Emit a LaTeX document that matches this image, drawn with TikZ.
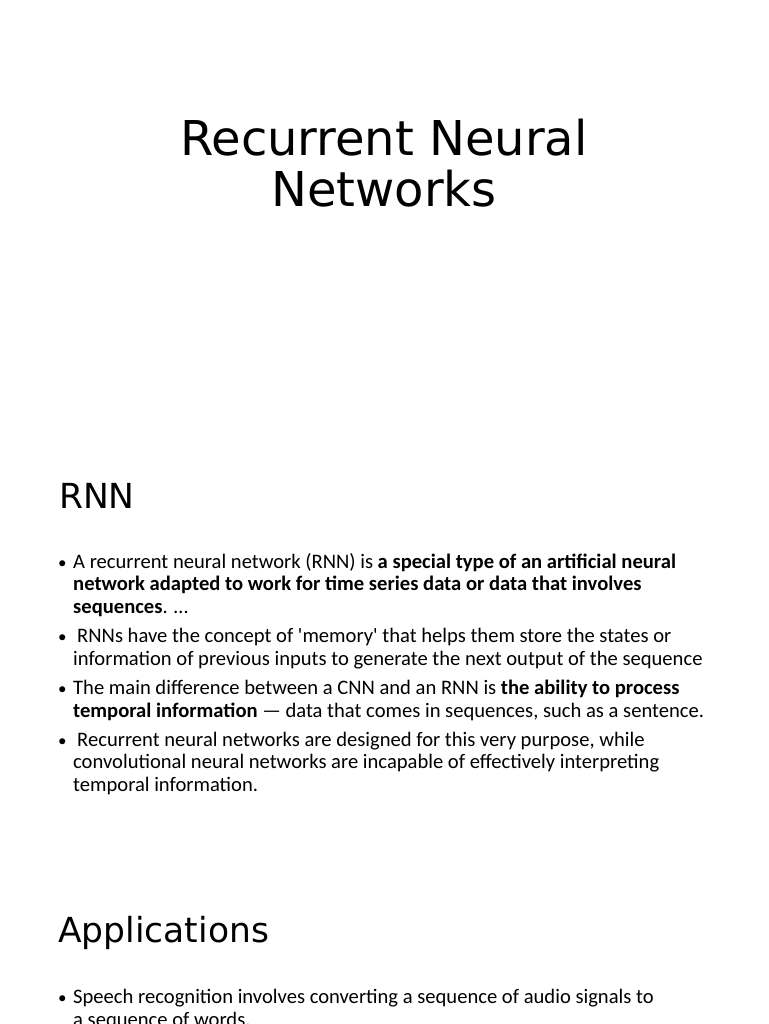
\documentclass[tikz,border=0pt]{standalone}
\usepackage{fontspec}
\defaultfontfeatures[\rmfamily]{}
\setmainfont{Carlito}
\newfontfamily\headfont{DejaVu Sans}
\begin{document}
\begin{tikzpicture}[x=1pt,y=-1pt,
  ttl/.style={font=\headfont\fontsize{48}{51}\selectfont,anchor=base,inner sep=0},
  hd/.style={font=\headfont\fontsize{34.5}{40}\selectfont,anchor=base west,inner sep=0},
  bt/.style={font=\fontsize{20.6}{23}\selectfont,anchor=base west,inner sep=0},
  bul/.style={font=\fontsize{17}{23}\selectfont,anchor=base west,inner sep=0}]
\useasboundingbox[fill=white] (0,0) rectangle (768,1024);
\node[ttl] (t1) at (384,156) {Recurrent Neural};
\node[ttl] (t2) at (384,207) {Networks};
\node[hd] (h1) at (59,508) {RNN};
\node[bul] (b1) at (58,568) {•};
\node[bt] (l1) at (73,568) {A recurrent neural network (RNN) is \textbf{a special type of an artificial neural}};
\node[bt] (l2) at (73,590) {\textbf{network adapted to work for time series data or data that involves}};
\node[bt] (l3) at (73,613) {\textbf{sequences}. …};
\node[bul] (b2) at (58,642) {•};
\node[bt] (l4) at (77,642) {RNNs have the concept of 'memory' that helps them store the states or};
\node[bt] (l5) at (73,665) {information of previous inputs to generate the next output of the sequence};
\node[bul] (b3) at (58,694) {•};
\node[bt] (l6) at (73,694) {The main difference between a CNN and an RNN is \textbf{the ability to process}};
\node[bt] (l7) at (73,717) {\textbf{temporal information} — data that comes in sequences, such as a sentence.};
\node[bul] (b4) at (58,746) {•};
\node[bt] (l8) at (77,746) {Recurrent neural networks are designed for this very purpose, while};
\node[bt] (l9) at (73,768) {convolutional neural networks are incapable of effectively interpreting};
\node[bt] (l10) at (73,791) {temporal information.};
\node[hd] (h2) at (58,942) {Applications};
\node[bul] (b5) at (58,1003) {•};
\node[bt] (l11) at (73,1003) {Speech recognition involves converting a sequence of audio signals to};
\node[bt] (l12) at (73,1026) {a sequence of words.};
\end{tikzpicture}
\end{document}
